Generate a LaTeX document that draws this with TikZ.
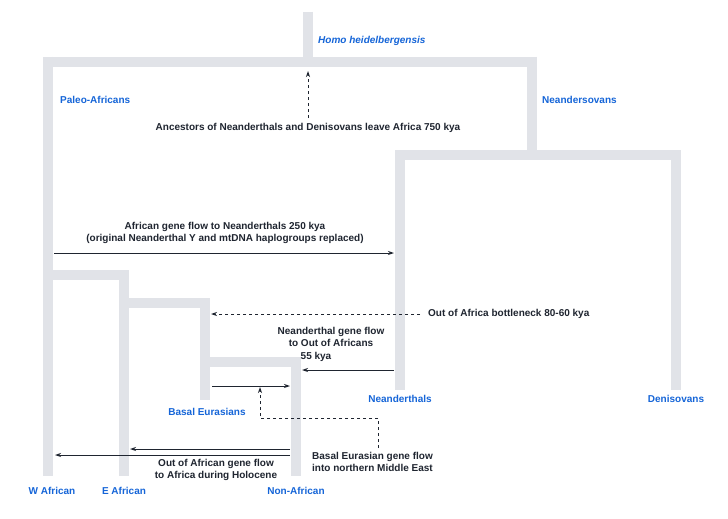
\documentclass[tikz,border=0pt]{standalone}
\usepackage{fontspec}
\setmainfont{Liberation Sans}
\usetikzlibrary{arrows.meta}
\definecolor{bar}{HTML}{E1E3E8}
\definecolor{lab}{HTML}{1565D8}
\definecolor{ink}{HTML}{1F2530}
\begin{document}
\begin{tikzpicture}[x=1pt,y=-1pt,
  br/.style={bar,line width=10pt},
  lbl/.style={font=\fontsize{10}{12}\selectfont\bfseries,text=lab,inner sep=1pt},
  txt/.style={font=\fontsize{10}{12.5}\selectfont\bfseries,text=ink,inner sep=1pt,align=center},
  ar/.style={ink,line width=1pt,-{Stealth[length=6pt,width=4pt]}},
  dar/.style={ar,dashed}]
\useasboundingbox (0,0) rectangle (728,519);
\fill[white] (0,0) rectangle (728,519);
% tree
\draw[br] (308,12) -- (308,62);
\draw[br] (43,62) -- (537,62);
\draw[br] (48,57) -- (48,476);
\draw[br] (532,57) -- (532,155);
\draw[br] (395,155) -- (681,155);
\draw[br] (400,150) -- (400,390);
\draw[br] (676,150) -- (676,390);
\draw[br] (48,275) -- (129,275);
\draw[br] (124,270) -- (124,476);
\draw[br] (124,303) -- (210,303);
\draw[br] (205,298) -- (205,400);
\draw[br] (205,362) -- (301,362);
\draw[br] (296,357) -- (296,476);
% labels
\node[lbl,anchor=west,font=\fontsize{10}{12}\selectfont\bfseries\itshape] (hh) at (317,41) {Homo heidelbergensis};
\node[lbl,anchor=west] (pa) at (59,100) {Paleo-Africans};
\node[lbl,anchor=west] (ns) at (541,100) {Neandersovans};
\node[lbl] (ne) at (400,399) {Neanderthals};
\node[lbl] (de) at (676,399) {Denisovans};
\node[lbl] (be) at (207,412) {Basal Eurasians};
\node[lbl] (wa) at (52,491) {W African};
\node[lbl] (ea) at (124,491) {E African};
\node[lbl] (na) at (296,491) {Non-African};
% texts
\node[txt] (t1) at (308,128) {Ancestors of Neanderthals and Denisovans leave Africa 750 kya};
\node[txt] (t2) at (225,233) {African gene flow to Neanderthals 250 kya\\(original Neanderthal Y and mtDNA haplogroups replaced)};
\node[txt,anchor=west] (t3) at (427,314) {Out of Africa bottleneck 80-60 kya};
\node[txt] (t4) at (331,344) {Neanderthal gene flow\\to Out of Africans\\\hspace*{-30pt}55 kya};
\node[txt,align=left,anchor=west] (t5) at (311,462) {Basal Eurasian gene flow\\into northern Middle East};
\node[txt] (t6) at (216,470) {Out of African gene flow\\to Africa during Holocene};
% coordinates
\coordinate (a1s) at (308,118); \coordinate (a1e) at (308,71);
\coordinate (a2s) at (54,253); \coordinate (a2e) at (394,253);
\coordinate (a3s) at (420,314); \coordinate (a3e) at (211,314);
\coordinate (a4s) at (394,370); \coordinate (a4e) at (302,370);
\coordinate (a5s) at (212,386); \coordinate (a5e) at (290,386);
\coordinate (a6s) at (378,448); \coordinate (a6e) at (260,387);
\coordinate (a7s) at (290,449); \coordinate (a7e) at (130,449);
\coordinate (a8s) at (290,455); \coordinate (a8e) at (55,455);
\draw[dar] (a1s) -- (a1e);
\draw[ar] (a2s) -- (a2e);
\draw[dar] (a3s) -- (a3e);
\draw[ar] (a4s) -- (a4e);
\draw[ar] (a5s) -- (a5e);
\draw[dar] (a6s) |- (260,418) -- (a6e);
\draw[ar] (a7s) -- (a7e);
\draw[ar] (a8s) -- (a8e);
\end{tikzpicture}
\end{document}
